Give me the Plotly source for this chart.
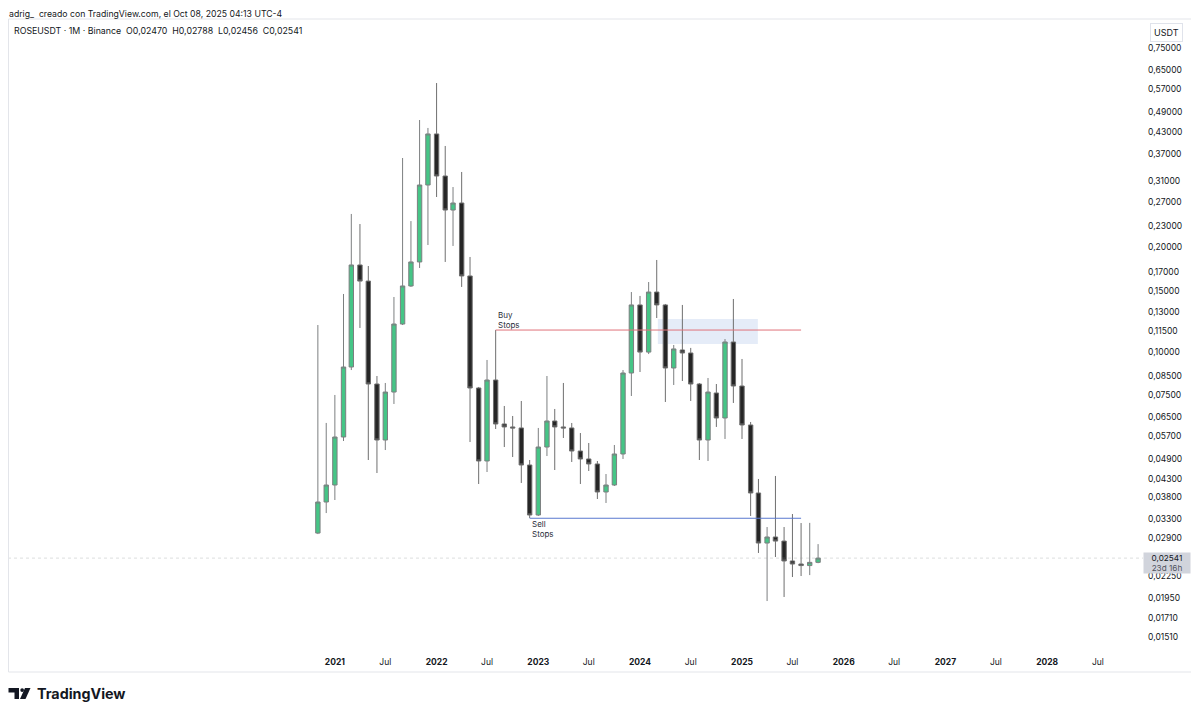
import math
import plotly.graph_objects as go

# ── Monthly candles ROSE/USDT (Binance) ───────────────────────────────────────
MONTHS = [
    "2020-11-01", "2020-12-01",
    "2021-01-01", "2021-02-01", "2021-03-01", "2021-04-01", "2021-05-01", "2021-06-01",
    "2021-07-01", "2021-08-01", "2021-09-01", "2021-10-01", "2021-11-01", "2021-12-01",
    "2022-01-01", "2022-02-01", "2022-03-01", "2022-04-01", "2022-05-01", "2022-06-01",
    "2022-07-01", "2022-08-01", "2022-09-01", "2022-10-01", "2022-11-01", "2022-12-01",
    "2023-01-01", "2023-02-01", "2023-03-01", "2023-04-01", "2023-05-01", "2023-06-01",
    "2023-07-01", "2023-08-01", "2023-09-01", "2023-10-01", "2023-11-01", "2023-12-01",
    "2024-01-01", "2024-02-01", "2024-03-01", "2024-04-01", "2024-05-01", "2024-06-01",
    "2024-07-01", "2024-08-01", "2024-09-01", "2024-10-01", "2024-11-01", "2024-12-01",
    "2025-01-01", "2025-02-01", "2025-03-01", "2025-04-01", "2025-05-01", "2025-06-01",
    "2025-07-01", "2025-08-01", "2025-09-01", "2025-10-01",
]
OPEN = [
    0.0300, 0.03687,
    0.04127, 0.05675, 0.0903, 0.1777, 0.1597, 0.08067,
    0.05563, 0.07648, 0.1201, 0.1546, 0.1813, 0.3021,
    0.4239, 0.3207, 0.2559, 0.2681, 0.1652, 0.07856,
    0.0484, 0.08284, 0.06187, 0.06066, 0.06026, 0.04713,
    0.03382, 0.0531, 0.06311, 0.06066, 0.06026, 0.05171,
    0.04905, 0.04745, 0.0394, 0.04127, 0.0507, 0.08677,
    0.1363, 0.0997, 0.1485, 0.1363, 0.08971, 0.1011,
    0.0991, 0.08067, 0.05563, 0.0760, 0.06438, 0.1066,
    0.0796, 0.06146, 0.03914, 0.02808, 0.02923, 0.02845,
    0.02493, 0.02443, 0.02418, 0.02470,
]
HIGH = [
    0.1193, 0.0623,
    0.0750, 0.1466, 0.2493, 0.2332, 0.1765, 0.08506,
    0.08122, 0.1437, 0.3614, 0.2378, 0.4650, 0.4411,
    0.5943, 0.3914, 0.2981, 0.3294, 0.1874, 0.0791,
    0.09461, 0.1154, 0.06972, 0.06524, 0.07207, 0.04872,
    0.06026, 0.08506, 0.06835, 0.08122, 0.06229, 0.05827,
    0.05454, 0.0484, 0.04439, 0.05382, 0.0885, 0.1485,
    0.1447, 0.1587, 0.1837, 0.1372, 0.1045, 0.1363,
    0.1025, 0.08122, 0.08395, 0.08067, 0.1087, 0.1418,
    0.09524, 0.0627, 0.04295, 0.03123, 0.04382, 0.03123,
    0.03404, 0.03207, 0.0321, 0.02788,
]
LOW = [
    0.0298, 0.03426,
    0.03736, 0.05526, 0.0885, 0.1170, 0.04872, 0.04469,
    0.05205, 0.07066, 0.1193, 0.1536, 0.1742, 0.2029,
    0.2790, 0.1813, 0.2016, 0.1536, 0.05489, 0.04155,
    0.04499, 0.05984, 0.0531, 0.04969, 0.04183, 0.03315,
    0.0336, 0.05002, 0.04559, 0.05638, 0.04808, 0.04155,
    0.04529, 0.03761, 0.03663, 0.0410, 0.04905, 0.0745,
    0.08735, 0.0984, 0.1250, 0.07159, 0.08014, 0.08229,
    0.07207, 0.04872, 0.0484, 0.06066, 0.05601, 0.07113,
    0.05601, 0.0336, 0.02629, 0.01911, 0.02559, 0.01963,
    0.02241, 0.02256, 0.0227, 0.02456,
]
CLOSE = [
    0.03687, 0.04127,
    0.05675, 0.0903, 0.1777, 0.1597, 0.08067, 0.05563,
    0.07648, 0.1201, 0.1546, 0.1813, 0.3021, 0.4239,
    0.3207, 0.2559, 0.2681, 0.1652, 0.07856, 0.0484,
    0.08284, 0.06187, 0.06066, 0.06026, 0.04713, 0.03382,
    0.0531, 0.06311, 0.06066, 0.06026, 0.05171, 0.04905,
    0.04745, 0.0394, 0.04127, 0.0507, 0.08677, 0.1363,
    0.0997, 0.1485, 0.1363, 0.08971, 0.1018, 0.0991,
    0.08067, 0.05563, 0.07648, 0.06438, 0.1066, 0.0796,
    0.06146, 0.03914, 0.02808, 0.02923, 0.02845, 0.02493,
    0.02443, 0.02418, 0.02470, 0.02541,
]

# drawings on the chart
BUY_STOPS = 0.1154
BUY_STOPS_SPAN = ["2022-08-01", "2025-08-01"]
SELL_STOPS = 0.0331
SELL_STOPS_SPAN = ["2022-12-01", "2025-08-01"]
ZONE_SPAN = ["2024-03-05", "2025-02-27"]
ZONE_PRICES = [0.1052, 0.1242]
LAST_PRICE = 0.02541
COUNTDOWN = "23d 16h"

# axes
PRICE_TICKS = [0.75, 0.65, 0.57, 0.49, 0.43, 0.37, 0.31, 0.27, 0.23, 0.20, 0.17,
               0.15, 0.13, 0.115, 0.10, 0.085, 0.075, 0.065, 0.057, 0.049, 0.043,
               0.038, 0.033, 0.029, 0.0225, 0.0195, 0.0171, 0.0151]
TIME_TICKS = ["2021-01-01", "2021-07-01", "2022-01-01", "2022-07-01", "2023-01-01",
              "2023-07-01", "2024-01-01", "2024-07-01", "2025-01-01", "2025-07-01",
              "2026-01-01", "2026-07-01", "2027-01-01", "2027-07-01", "2028-01-01",
              "2028-07-01"]
TIME_LABELS = ["<b>2021</b>", "Jul", "<b>2022</b>", "Jul", "<b>2023</b>", "Jul",
               "<b>2024</b>", "Jul", "<b>2025</b>", "Jul", "<b>2026</b>", "Jul",
               "<b>2027</b>", "Jul", "<b>2028</b>", "Jul"]

# the page body has an 8px default margin, so the figure sits at (8, 8)
OFF = 8
W, H = 1199 - OFF, 716 - 2 * OFF
PL, PR, PT, PB = 8, 1143, 22, 652   # plot area in page pixels
FONT = "Inter, Roboto, sans-serif"
TXT = "#131722"


def px(x):
    return (x - PL) / (PR - PL)


def py(y):
    return (PB - y) / (PB - PT)


fig = go.Figure()

fig.add_trace(go.Candlestick(
    x=MONTHS, open=OPEN, high=HIGH, low=LOW, close=CLOSE,
    increasing=dict(fillcolor="#45c586", line=dict(color="#7c7f80", width=1)),
    decreasing=dict(fillcolor="#262626", line=dict(color="#6f6f6f", width=1)),
    whiskerwidth=0, hoverinfo="skip", showlegend=False,
))

# Buy / Sell stops levels
fig.add_trace(go.Scatter(
    x=BUY_STOPS_SPAN, y=[BUY_STOPS, BUY_STOPS], mode="lines",
    line=dict(color="#e0737b", width=1), hoverinfo="skip", showlegend=False,
))
fig.add_trace(go.Scatter(
    x=SELL_STOPS_SPAN, y=[SELL_STOPS, SELL_STOPS], mode="lines",
    line=dict(color="#5a78cf", width=1), hoverinfo="skip", showlegend=False,
))

shapes = [
    # supply zone box
    dict(type="rect", xref="x", yref="y", x0=ZONE_SPAN[0], x1=ZONE_SPAN[1],
         y0=ZONE_PRICES[0], y1=ZONE_PRICES[1], fillcolor="rgba(180,200,235,0.35)",
         line=dict(width=0), layer="below"),
    # last price dotted line
    dict(type="line", xref="paper", yref="y", x0=0, x1=1, y0=LAST_PRICE, y1=LAST_PRICE,
         line=dict(color="rgba(140,150,150,0.3)", width=1, dash="dot")),
    # pane frame
    dict(type="rect", xref="paper", yref="paper", x0=px(8.5), x1=px(1192),
         y0=py(672), y1=py(19), line=dict(color="#e3e5ea", width=1)),
]

# TradingView logo glyph (rough)
LOGO = "#131722"
shapes += [
    dict(type="rect", xref="paper", yref="paper", x0=px(8.5), x1=px(19), y0=py(692.5), y1=py(688),
         fillcolor=LOGO, line=dict(width=0)),
    dict(type="rect", xref="paper", yref="paper", x0=px(14.5), x1=px(19), y0=py(699), y1=py(688),
         fillcolor=LOGO, line=dict(width=0)),
    dict(type="circle", xref="paper", yref="paper", x0=px(20.3), x1=px(24), y0=py(692), y1=py(688.2),
         fillcolor=LOGO, line=dict(width=0)),
    dict(type="path", xref="paper", yref="paper",
         path=f"M {px(25)} {py(688)} L {px(30.5)} {py(688)} L {px(25.5)} {py(699)} L {px(20)} {py(699)} Z",
         fillcolor=LOGO, line=dict(width=0)),
]

annotations = [
    dict(text="adrig_  creado con TradingView.com, el Oct 08, 2025 04:13 UTC-4",
         xref="paper", yref="paper", x=px(8), y=py(8), xanchor="left", yanchor="top",
         borderpad=0, showarrow=False, font=dict(size=8.7, color=TXT)),
    dict(text="ROSEUSDT · 1M · Binance  O0,02470  H0,02788  L0,02456  C0,02541",
         xref="paper", yref="paper", x=px(12), y=py(31), xanchor="left", yanchor="middle",
         showarrow=False, font=dict(size=8.8, color=TXT)),
    dict(text="USDT", xref="paper", yref="paper", x=px(1166), y=py(32),
         xanchor="center", yanchor="middle", showarrow=False,
         font=dict(size=9, color=TXT), bgcolor="white", bordercolor="#e0e3eb",
         borderwidth=1, borderpad=3),
    dict(text=f"{LAST_PRICE:.5f}".replace(".", ",") + f"<br><span style='color:#50535e'>{COUNTDOWN}</span>",
         xref="paper", yref="paper", x=px(1167), y=py(562.5), xanchor="center",
         yanchor="middle", showarrow=False, align="center", width=44, height=18,
         font=dict(size=8.2, color=TXT), bgcolor="#d1d4dc", borderpad=1),
    dict(text="Buy<br>Stops", xref="x", yref="y", x=BUY_STOPS_SPAN[0],
         y=math.log10(BUY_STOPS), xanchor="left", yanchor="bottom", xshift=0, yshift=-2,
         align="left", showarrow=False, font=dict(size=8, color="#2a2e39")),
    dict(text="Sell<br>Stops", xref="x", yref="y", x=SELL_STOPS_SPAN[0],
         y=math.log10(SELL_STOPS), xanchor="left", yanchor="top", xshift=0, yshift=1,
         align="left", showarrow=False, font=dict(size=8, color="#2a2e39")),
    dict(text="<b>TradingView</b>", xref="paper", yref="paper", x=px(35), y=py(693),
         xanchor="left", yanchor="middle", showarrow=False,
         font=dict(size=14.3, color=LOGO)),
]

fig.update_layout(
    width=W, height=H, autosize=False,
    margin=dict(l=PL - OFF, r=W - (PR - OFF), t=PT - OFF, b=H - (PB - OFF)),
    paper_bgcolor="white", plot_bgcolor="white",
    font=dict(family=FONT, color=TXT),
    separators=", ",
    showlegend=False,
    boxgap=0.2,
    shapes=shapes,
    annotations=annotations,
    xaxis=dict(
        type="date", range=["2017-10-16", "2028-12-10"],
        rangeslider=dict(visible=False),
        tickvals=TIME_TICKS, ticktext=TIME_LABELS,
        tickfont=dict(size=8.5, color=TXT),
        ticklabelstandoff=3,
        showgrid=False, zeroline=False, showline=False, ticks="",
    ),
    yaxis=dict(
        type="log", side="right",
        range=[-1.8656, -0.0501],
        tickvals=PRICE_TICKS, tickformat=".5f",
        tickfont=dict(size=8.5, color=TXT),
        ticklabelstandoff=4,
        showgrid=False, zeroline=False, showline=False, ticks="",
    ),
)

fig.write_html("out.html")
